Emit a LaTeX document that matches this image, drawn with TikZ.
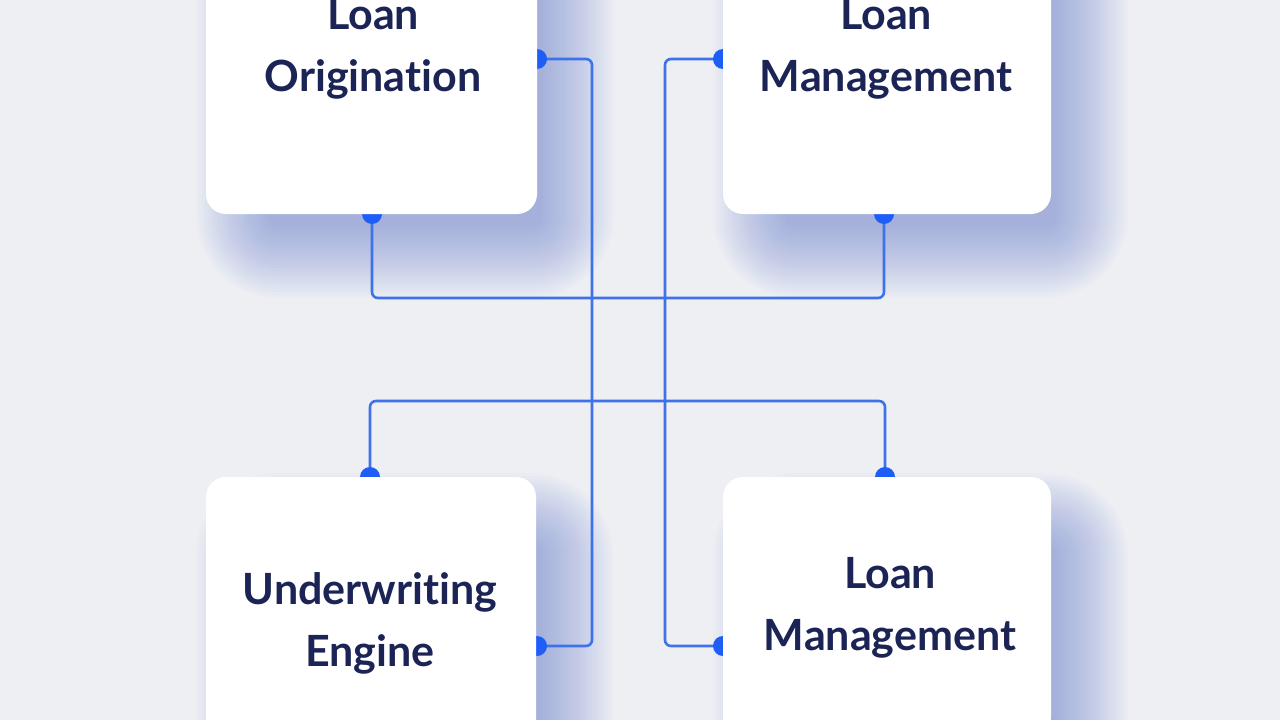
\documentclass[tikz,border=0pt]{standalone}
\usepackage{fontspec}
\setmainfont{Lato}[Ligatures={NoCommon}]
\definecolor{bgc}{HTML}{EEEFF3}
\definecolor{linec}{HTML}{3D72EA}
\definecolor{dotc}{HTML}{1F5EF6}
\definecolor{txtc}{HTML}{1B2455}
\definecolor{shadc}{HTML}{5E76CF}
\tikzset{
  cardbox/.style={fill=white, draw=none, rounded corners=20pt, inner sep=0pt},
  cardtext/.style={text=txtc, font=\fontsize{43}{62}\selectfont\bfseries, align=center, inner sep=0pt},
  conn/.style={draw=linec, line width=2.6pt, rounded corners=6pt},
  portdot/.style={fill=dotc, draw=none},
}
\newcommand{\cardshadow}[4]{%
  \foreach \i in {0,...,24}{%
    \fill[shadc, opacity=0.024, rounded corners={10pt+3pt*\i}]
      ({#1+62-3*\i},{#2+68-3*\i}) rectangle ({#3+5+3*\i},{#4+12+3*\i});
  }%
}
\begin{document}
\begin{tikzpicture}[x=1pt,y=-1pt]
\useasboundingbox (0,0) rectangle (1280,720);
\fill[bgc] (0,0) rectangle (1280,720);
\begin{scope}
\clip (0,0) rectangle (1280,720);
% shadows
\cardshadow{206}{-122}{537}{214}
\cardshadow{723}{-122}{1051}{214}
\cardshadow{206}{477}{536}{765}
\cardshadow{723}{477}{1051}{737}
% ports
\coordinate (p1) at (537,59);
\coordinate (p2) at (537,646);
\coordinate (p3) at (723,59);
\coordinate (p4) at (723,646);
\coordinate (p5) at (372,214);
\coordinate (p6) at (884,214);
\coordinate (p7) at (370,477);
\coordinate (p8) at (885,477);
% connectors
\draw[conn] (p1) -- ++(55,0) |- (p2);
\draw[conn] (p3) -- ++(-58,0) |- (p4);
\draw[conn] (p5) -- ++(0,84) -| (p6);
\draw[conn] (p7) -- ++(0,-76) -| (p8);
\foreach \p in {p1,p2,p3,p4,p5,p6,p7,p8}{\fill[portdot] (\p) circle (10pt);}
% cards
\node[cardbox, minimum width=331pt, minimum height=336pt] (tl) at (371.5,46) {};
\node[cardbox, minimum width=328pt, minimum height=336pt] (tr) at (887,46) {};
\node[cardbox, minimum width=330pt, minimum height=288pt] (bl) at (371,621) {};
\node[cardbox, minimum width=328pt, minimum height=260pt] (br) at (887,607) {};
\node[cardtext] (tlt) at (373,49) {Loan\\Origination};
\node[cardtext] (trt) at (886,49) {Loan\\Management};
\node[cardtext] (blt) at (370,623) {Underwriting\\Engine};
\node[cardtext] (brt) at (890,608) {Loan\\Management};
\end{scope}
\end{tikzpicture}
\end{document}
